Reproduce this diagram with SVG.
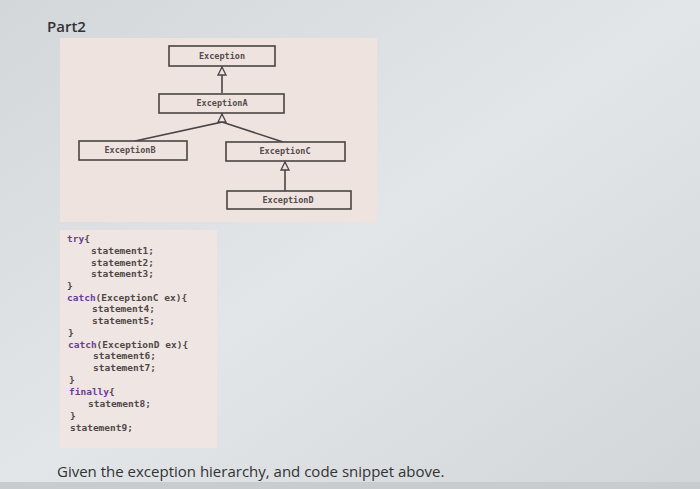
<svg xmlns="http://www.w3.org/2000/svg" width="700" height="489" viewBox="0 0 700 489">
<defs>
<linearGradient id="bg" x1="0" y1="0" x2="1" y2="1"><stop offset="0" stop-color="#d3d7da"/><stop offset="0.5" stop-color="#e2e6e8"/><stop offset="1" stop-color="#d2d6d8"/></linearGradient>
</defs>
<style>
.n rect{fill:#efe3e0;stroke:#4a4444;stroke-width:1.6}
.n text{font-family:"DejaVu Sans Mono",monospace;font-size:8.5px;font-weight:bold;fill:#554c4c;text-anchor:middle}
.c{stroke:#4a4444;stroke-width:1.6;fill:none}
.tri{fill:#efe3e0;stroke:#4a4444;stroke-width:1.3}
.code{font-family:"DejaVu Sans Mono",monospace;font-size:9.5px;font-weight:bold;fill:#4f4848}
.kw{fill:#6b3d95}
</style>
<rect width="700" height="489" fill="url(#bg)"/>
<rect x="0" y="482" width="700" height="7" fill="#c8ccce"/>
<text x="47" y="32" font-family="Open Sans, Liberation Sans, sans-serif" font-size="15" font-weight="600" fill="#333">Part2</text>
<rect x="60" y="38" width="317" height="184" fill="#efe3e0"/>
<rect x="60" y="230" width="157" height="218" fill="#efe5e3"/>
<g id="connectors">
<path class="c" d="M222,93 V67"/>
<path class="c" d="M222,113 V122 L135,141 M222,122 L283,142"/>
<path class="c" d="M285,191 V162"/>
<path class="tri" d="M222,67 L226,75 L218,75 Z"/>
<path class="tri" d="M222,114 L226,122 L218,122 Z"/>
<path class="tri" d="M285,162 L289,170 L281,170 Z"/>
</g>
<g id="exception" class="n"><rect x="169" y="46" width="106" height="20"/><text x="222" y="59">Exception</text></g>
<g id="exceptionA" class="n"><rect x="159" y="94" width="125" height="19"/><text x="222" y="106">ExceptionA</text></g>
<g id="exceptionB" class="n"><rect x="79" y="141" width="108" height="19"/><text x="130" y="153">ExceptionB</text></g>
<g id="exceptionC" class="n"><rect x="226" y="142" width="119" height="19"/><text x="285" y="154">ExceptionC</text></g>
<g id="exceptionD" class="n"><rect x="227" y="191" width="124" height="18"/><text x="288" y="203">ExceptionD</text></g>
<g id="code" class="code">
<text x="67" y="242"><tspan class="kw">try</tspan>{</text>
<text x="91" y="254">statement1;</text>
<text x="91" y="266">statement2;</text>
<text x="91" y="277">statement3;</text>
<text x="67" y="289">}</text>
<text x="67" y="301"><tspan class="kw">catch</tspan>(ExceptionC ex){</text>
<text x="92" y="312">statement4;</text>
<text x="92" y="324">statement5;</text>
<text x="68" y="336">}</text>
<text x="68" y="348"><tspan class="kw">catch</tspan>(ExceptionD ex){</text>
<text x="93" y="359">statement6;</text>
<text x="93" y="371">statement7;</text>
<text x="69" y="383">}</text>
<text x="69" y="395"><tspan class="kw">finally</tspan>{</text>
<text x="88" y="407">statement8;</text>
<text x="70" y="419">}</text>
<text x="70" y="431">statement9;</text>
</g>
<text x="57" y="477" font-family="Open Sans, Liberation Sans, sans-serif" font-size="15" fill="#333">Given the exception hierarchy, and code snippet above.</text>
</svg>
